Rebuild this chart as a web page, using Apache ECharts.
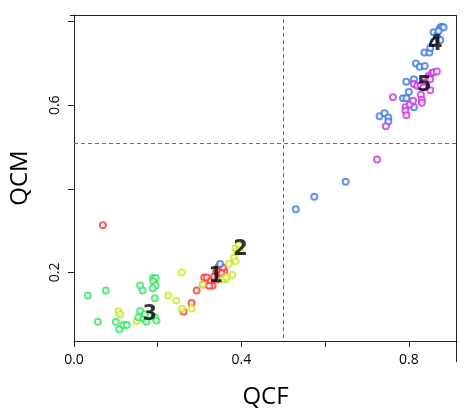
<!DOCTYPE html>
<html><head><meta charset="utf-8">
<script src="https://cdn.jsdelivr.net/npm/echarts@6/dist/echarts.min.js"></script>
<style>html,body{margin:0;padding:0;background:#fff}#c{width:474px;height:414px}</style>
</head><body><div id="c"></div>
<script>
const cluster1 = [[0.069,0.313],[0.293,0.157],[0.262,0.106],[0.281,0.127],[0.311,0.188],[0.317,0.188],[0.327,0.179],[0.331,0.168],[0.339,0.198],[0.347,0.205],[0.355,0.209],[0.351,0.194],[0.343,0.183],[0.359,0.203],[0.309,0.171],[0.323,0.168],[0.335,0.190],[0.345,0.213],[0.352,0.199],[0.341,0.205],[0.356,0.212]];
const cluster2 = [[0.257,0.2],[0.225,0.145],[0.244,0.133],[0.258,0.113],[0.281,0.114],[0.106,0.107],[0.11,0.1],[0.15,0.083],[0.362,0.183],[0.378,0.194],[0.370,0.22],[0.382,0.235],[0.39,0.25],[0.386,0.258],[0.394,0.265],[0.386,0.227],[0.355,0.183],[0.364,0.189],[0.307,0.171],[0.396,0.254]];
const cluster3 = [[0.033,0.145],[0.057,0.082],[0.076,0.157],[0.1,0.082],[0.108,0.064],[0.118,0.074],[0.126,0.074],[0.158,0.169],[0.164,0.157],[0.158,0.108],[0.154,0.093],[0.166,0.089],[0.173,0.082],[0.189,0.187],[0.195,0.187],[0.189,0.179],[0.195,0.169],[0.188,0.162],[0.193,0.138],[0.181,0.097],[0.193,0.093],[0.197,0.085],[0.169,0.1]];
const cluster4 = [[0.349,0.22],[0.53,0.351],[0.574,0.381],[0.649,0.417],[0.73,0.574],[0.742,0.581],[0.751,0.571],[0.751,0.561],[0.786,0.617],[0.794,0.617],[0.794,0.656],[0.812,0.662],[0.812,0.595],[0.8,0.632],[0.817,0.7],[0.826,0.692],[0.838,0.694],[0.837,0.726],[0.849,0.726],[0.851,0.737],[0.859,0.775],[0.867,0.767],[0.875,0.786],[0.879,0.788],[0.883,0.786],[0.871,0.778],[0.875,0.756],[0.859,0.752]];
const cluster5 = [[0.724,0.47],[0.745,0.55],[0.762,0.619],[0.792,0.595],[0.792,0.587],[0.794,0.576],[0.802,0.602],[0.81,0.611],[0.812,0.651],[0.82,0.647],[0.829,0.625],[0.831,0.613],[0.831,0.606],[0.828,0.647],[0.839,0.655],[0.847,0.67],[0.851,0.662],[0.855,0.677],[0.859,0.679],[0.867,0.681],[0.851,0.636],[0.835,0.643]];
const clusterLabels = [['1',0.339,0.19],['2',0.398,0.254],['3',0.181,0.1],['4',0.863,0.745],['5',0.837,0.647]];
const xTickLabels = ['0.0','0.4','0.8'];
const yTickLabels = ['0.2','0.6'];
const cutX = 0.5, cutY = 0.506;

const colors = ['#f23a3a','#c8e81e','#2ee860','#3c78e8','#c834e8'];
const clusters = [cluster1, cluster2, cluster3, cluster4, cluster5];
const fmt = v => v.toFixed(1);
const cutStyle = { color: '#e83a3a', type: [4, 3], width: 1 };

const series = clusters.map((d, i) => ({
  type: 'scatter', data: d, symbol: 'emptyCircle', symbolSize: 6,
  itemStyle: { color: colors[i], borderColor: colors[i], borderWidth: 0.9 }, z: 2
}));
series[0].markLine = {
  silent: true, symbol: 'none', label: { show: false }, lineStyle: cutStyle,
  data: [[{ coord: [cutX, 0.043], lineStyle: cutStyle }, { coord: [cutX, 0.812] }],
         { yAxis: cutY, lineStyle: cutStyle }]
};
series.push({
  type: 'scatter', symbolSize: 0, z: 5,
  data: clusterLabels.map(l => ({ value: [l[1], l[2]], name: l[0] })),
  label: { show: true, position: 'inside', formatter: p => p.name, color: '#000',
    fontSize: 21, fontWeight: 900, fontFamily: 'DejaVu Sans' }
});

const chart = echarts.init(document.getElementById('c'));
chart.setOption({
  animation: false,
  grid: { left: 70, right: 17, top: 15, bottom: 52 },
  xAxis: {
    type: 'value', min: 0, max: 0.915, interval: 0.2,
    name: 'QCF', nameLocation: 'middle', nameGap: 44,
    nameTextStyle: { fontSize: 24, color: '#000', fontFamily: 'Open Sans' },
    axisLine: { show: true, onZero: false, lineStyle: { color: '#222' } },
    axisTick: { show: true, length: 6, lineStyle: { color: '#222' } },
    splitLine: { show: false },
    axisLabel: { color: '#000', fontSize: 14, fontFamily: 'Open Sans', margin: 12, showMaxLabel: false,
      formatter: v => xTickLabels.includes(fmt(v)) ? fmt(v) : '' }
  },
  yAxis: {
    type: 'value', min: 0.036, max: 0.816, interval: 0.2,
    name: 'QCM', nameLocation: 'middle', nameGap: 42, nameRotate: 90,
    nameTextStyle: { fontSize: 24, color: '#000', fontFamily: 'Open Sans' },
    axisLine: { show: true, onZero: false, lineStyle: { color: '#222' } },
    axisTick: { show: true, length: 6, lineStyle: { color: '#222' }, customValues: [0.2, 0.4, 0.6, 0.8] },
    splitLine: { show: false },
    axisLabel: { color: '#000', fontSize: 14, fontFamily: 'Open Sans', rotate: 90, margin: 12,
      customValues: [0.2, 0.6], formatter: v => yTickLabels.includes(fmt(v)) ? fmt(v) : '' }
  },
  series
});
</script>
<div style="position:absolute;left:70px;top:15px;width:387px;height:347px;border:1px solid #222;border-left:none;border-bottom:none;box-sizing:border-box;pointer-events:none"></div>
</body></html>
